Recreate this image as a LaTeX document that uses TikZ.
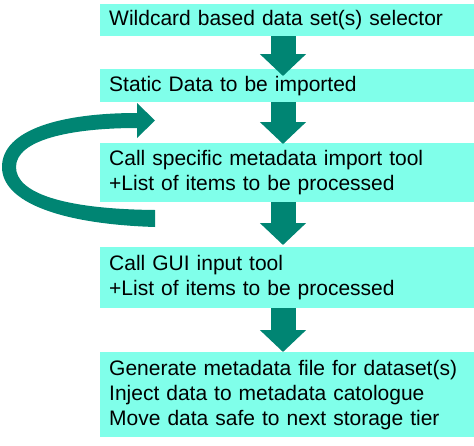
\documentclass[tikz,border=0pt]{standalone}
\usepackage{fontspec}
\setmainfont{Liberation Sans}
\usetikzlibrary{arrows.meta}
\definecolor{boxfill}{RGB}{128,255,234}
\definecolor{arrowteal}{RGB}{0,133,115}
\begin{document}
\begin{tikzpicture}[x=1pt,y=-1pt,
  stepbox/.style={fill=boxfill, draw=none, anchor=north west, minimum width=374pt,
    text width=356pt, inner xsep=9pt, inner ysep=0pt, align=left,
    font=\fontsize{21}{25}\selectfont},
  flow/.style={draw=arrowteal, line width=25pt, -{Triangle[width=45pt,length=22pt]}},
  loopshape/.style={fill=arrowteal, draw=none}]
\useasboundingbox (0,0) rectangle (474,445);
\node[stepbox, minimum height=32pt] (b1) at (100,4) {Wildcard based data set(s) selector};
\node[stepbox, minimum height=33pt] (b2) at (100,69) {Static Data to be imported};
\node[stepbox, minimum height=59pt] (b3) at (100,143) {Call specific metadata import tool\\+List of items to be processed};
\node[stepbox, minimum height=61pt] (b4) at (100,247) {Call GUI input tool\\+List of items to be processed};
\node[stepbox, minimum height=85pt] (b5) at (100,352) {Generate metadata file for dataset(s)\\Inject data to metadata catologue\\Move data safe to next storage tier};
\coordinate (ax) at (283,0);
\draw[flow] (b1.south -| ax) -- ([yshift=-7pt]b2.north -| ax);
\draw[flow] (b2.south -| ax) -- ([yshift=-1pt]b3.north -| ax);
\draw[flow] (b3.south -| ax) -- ([yshift=2pt]b4.north -| ax);
\draw[flow] (b4.south -| ax) -- (b5.north -| ax);
% looping arrow
\fill[loopshape] (155,227) .. controls (60,224) and (2,202) .. (2,167)
  .. controls (2,130) and (60,113) .. (137,113) -- (137,103) -- (155,120.5) -- (137,138) -- (137,128)
  .. controls (70,128) and (16,140) .. (16,167)
  .. controls (16,192) and (60,209) .. (155,210) -- cycle;
\end{tikzpicture}
\end{document}
